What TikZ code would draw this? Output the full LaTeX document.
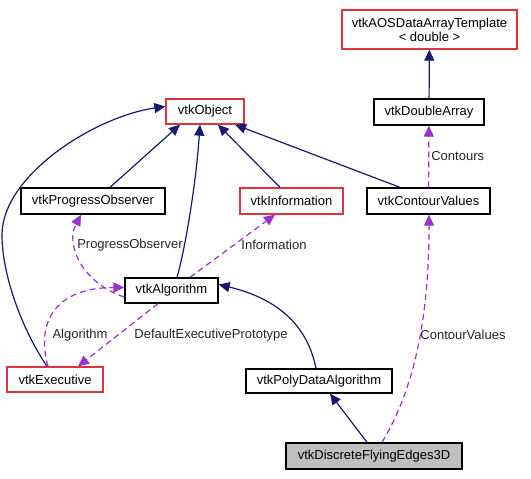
\documentclass[tikz,border=0pt]{standalone}
\usepackage{fontspec}
\setmainfont{Liberation Sans}
\usetikzlibrary{arrows.meta}
\definecolor{edgenavy}{RGB}{25,25,112}
\definecolor{edgepurple}{RGB}{154,50,205}
\definecolor{boxred}{RGB}{222,52,62}
\definecolor{boxgray}{RGB}{191,191,191}
\tikzset{
  cls/.style={draw=black, line width=1.3pt, fill=white, inner sep=0pt, font=\fontsize{13}{15}\selectfont, align=center},
  redcls/.style={cls, draw=boxred},
  curcls/.style={cls, fill=boxgray},
  inh/.style={draw=edgenavy, line width=1.2pt, -{Triangle[length=11pt,width=10pt,fill=edgenavy]}},
  usage/.style={draw=edgepurple, line width=1.2pt, dash pattern=on 6pt off 4pt, -{Triangle[length=11pt,width=10pt,fill=edgepurple]}},
  lbl/.style={font=\fontsize{13}{15}\selectfont, inner sep=1pt, text=black!85}
}
\begin{document}
\begin{tikzpicture}[x=1pt,y=-1pt]
\useasboundingbox (0,0) rectangle (531,479);
\fill[white] (0,0) rectangle (531,479);
% nodes
\node[redcls, minimum width=175pt, minimum height=39pt] (aos) at (429.5,29.5) {vtkAOSDataArrayTemplate\\[-1pt]< double >};
\node[cls, minimum width=110pt, minimum height=26pt] (dbl) at (429,112) {vtkDoubleArray};
\node[redcls, minimum width=78pt, minimum height=25pt] (obj) at (205,111.5) {vtkObject};
\node[cls, minimum width=144pt, minimum height=26pt] (prog) at (93,201) {vtkProgressObserver};
\node[redcls, minimum width=103pt, minimum height=26pt] (info) at (291.5,201) {vtkInformation};
\node[cls, minimum width=123pt, minimum height=26pt] (cv) at (428.5,201) {vtkContourValues};
\node[cls, minimum width=93pt, minimum height=25pt] (alg) at (171.5,290.5) {vtkAlgorithm};
\node[redcls, minimum width=96pt, minimum height=25pt] (exe) at (55,379.5) {vtkExecutive};
\node[cls, minimum width=146pt, minimum height=24pt] (pda) at (319,381) {vtkPolyDataAlgorithm};
\node[curcls, minimum width=176pt, minimum height=26pt] (dfe) at (374,456) {vtkDiscreteFlyingEdges3D};
% inheritance edges
\draw[inh] (dbl) -- (aos);
\draw[inh] ([xshift=17pt]prog.north) -- ([xshift=-25pt]obj.south);
\draw[inh] ([xshift=5.5pt]alg.north) .. controls +(8,-28) and +(-4,60) .. ([xshift=-5pt]obj.south);
\draw[inh] ([xshift=-11.5pt]info.north) -- ([xshift=13pt]obj.south);
\draw[inh] ([xshift=-28.5pt]cv.north) -- ([xshift=30pt]obj.south);
\draw[inh] ([xshift=-8pt]exe.north) .. controls +(-25,-37) and +(0,40) .. (2,235) .. controls +(0,-60) and +(-70,10) .. ([yshift=5pt]obj.west);
\draw[inh] ([xshift=-3pt]pda.north) .. controls +(-10,-50) and +(50,12) .. ([yshift=6pt]alg.east);
\draw[inh] ([xshift=-7pt]dfe.north) -- ([xshift=11pt]pda.south);
% usage edges
\draw[usage] (cv) -- node[lbl, right, xshift=1pt] {Contours} (dbl);
\draw[usage] ([yshift=-6.5pt]alg.west) .. controls +(-42,-14) and +(-16,30) .. ([xshift=-12pt]prog.south);
\draw[usage] ([xshift=18.5pt]alg.north) -- ([xshift=-16.5pt]info.south);
\node[lbl] (lprog) at (130,245) {ProgressObserver};
\node[lbl] (linfo) at (274,245) {Information};
\draw[usage] ([xshift=-7pt]exe.north) .. controls +(-13,-47) and +(-66,0) .. ([yshift=3pt]alg.west);
\draw[usage] ([xshift=-13.5pt]alg.south) -- ([xshift=23pt]exe.north);
\node[lbl] (lalg) at (80,335) {Algorithm};
\node[lbl] (ldef) at (211,335) {DefaultExecutivePrototype};
\draw[usage] ([xshift=8pt]dfe.north) .. controls +(38,-63) and +(0,85) .. ([xshift=0.5pt]cv.south);
\node[lbl] (lcv) at (463,335) {ContourValues};
\end{tikzpicture}
\end{document}
